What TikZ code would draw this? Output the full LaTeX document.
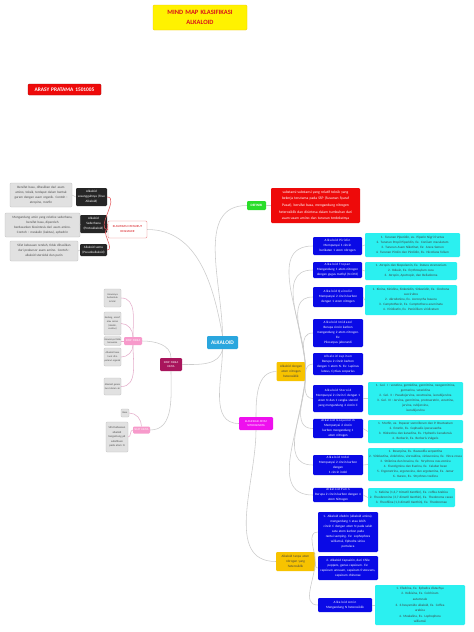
\documentclass[tikz,border=0pt]{standalone}
\usepackage{fontspec}
\setmainfont{Carlito}
\newfontfamily\spc[LetterSpace=12]{Carlito}
\definecolor{nblue}{HTML}{0A0AE6}
\definecolor{ncyan}{HTML}{2BF0F0}
\definecolor{ngold}{HTML}{F7C300}
\definecolor{nmag}{HTML}{EE10EE}
\definecolor{nred}{HTML}{EE0A0A}
\definecolor{ngreen}{HTML}{2ADD2A}
\definecolor{nsky}{HTML}{2AA6DE}
\definecolor{nmaroon}{HTML}{A8155C}
\definecolor{npink}{HTML}{F79ACB}
\definecolor{ngray}{HTML}{E1E1E1}
\definecolor{ndark}{HTML}{262626}
\definecolor{lgray}{HTML}{CBCBCB}
\definecolor{tred}{HTML}{D8141A}
\tikzset{
  bx/.style={rounded corners=1.2pt, align=center, inner xsep=0pt, inner ysep=0.6pt,
    font=\fontsize{3.3}{5}\selectfont},
  sz/.style 2 args={minimum width=#1pt, text width=#1pt, minimum height=#2pt},
  bluebox/.style={bx, fill=nblue, text=white},
  cyanbox/.style={bx, fill=ncyan, text=black!75},
  goldbox/.style={bx, fill=ngold, text=black!75},
  graybox/.style={bx, fill=ngray, draw=black!25, line width=0.3pt, text=black!70},
  smallgray/.style={graybox, font=\fontsize{2.5}{3.7}\selectfont},
  darkbox/.style={bx, fill=ndark, text=white},
  link/.style={draw=lgray, line width=0.55pt},
  rlink/.style={draw=tred!70, line width=0.55pt},
  plink/.style={draw=npink!60!lgray, line width=0.55pt},
}
\begin{document}
\begin{tikzpicture}[x=1pt,y=-1pt]
\useasboundingbox (0,0) rectangle (474,632);
\fill[white] (0,0) rectangle (474,632);

% title and author
\node[bx, sz={94}{25}, fill=yellow, draw=ngold, line width=0.4pt, text=tred,
  font=\fontsize{6.5}{9.5}\selectfont\bfseries] (title) at (200,17.5) {MIND MAP KLASIFIKASI\\ALKALOID};
\node[bx, sz={73}{11}, fill=nred, draw=nred!70!black, line width=0.3pt, text=white,
  font=\fontsize{5.4}{6}\selectfont\bfseries] (author) at (64.5,89.5) {ARASY PRATAMA 1501005};

% centre
\node[bx, sz={31}{13}, fill=nsky, text=white, font=\fontsize{5.5}{6}\selectfont\bfseries] (alk) at (222.5,342.5) {ALKALOID};

% definisi
\node[bx, sz={19}{9}, fill=ngreen, text=white, font=\fontsize{3.3}{4}\selectfont\bfseries] (def) at (256.5,205.5) {DEFINISI};
\node[bx, sz={89}{35}, fill=nred, text=white, font=\fontsize{3.7}{6.6}\selectfont] (defr) at (315.5,205.5)
 {substansi-substansi yang relatif toksik yang\\bekerja terutama pada SSP (Susunan Syaraf\\Pusat), bersifat basa, mengandung nitrogen\\heterosiklik dan disintesa dalam tumbuhan dari\\asam-asam amino dan turunan terdekatnya};

% Hegnauer
\node[bx, sz={39}{17}, fill=white, draw=tred!60, line width=0.4pt, text=tred, font=\fontsize{3.1}{5}\selectfont] (heg) at (127.5,229.5) {KLASIFIKASI MENURUT\\HEGNAUER};
\node[darkbox, sz={31}{18}] (tru) at (91.5,197) {Alkaloid\\sesungguhnya (True\\Alkaloid)};
\node[darkbox, sz={27}{18}] (pro) at (93.5,224) {Alkaloid\\Sederhana\\(Protoalkaloid)};
\node[darkbox, sz={27}{12}] (pse) at (93.5,250) {Alkaloid semu\\(Pseudoalkaloid)};
\node[graybox, sz={62}{24}] (ga) at (41,195) {Bersifat basa, dihasilkan dari asam\\amino, toksik, terdapat dalam bentuk\\garam dengan asam organik. Contoh :\\atropine, morfin};
\node[graybox, sz={75}{24}] (gb) at (42.5,225) {Mengandung amin yang relative sederhana,\\bersifat basa, diperoleh\\berdasarkan biosintesis dari asam amino.\\Contoh : meskalin (kaktus), ephedrin};
\node[graybox, sz={68}{20}] (gc) at (44,251) {Sifat kebasaan rendah, tidak dihasilkan\\dari prekursor asam amino. Contoh :\\alkaloid steroidal dan purin};

% sifat fisika kimia
\node[bx, sz={22}{13}, fill=nmaroon, text=white, font=\fontsize{2.9}{4.2}\selectfont] (sfk) at (171,364.5) {SIFAT FISIKA\\KIMIA};
\node[bx, sz={18}{8}, fill=npink, text=white, font=\fontsize{2.9}{4}\selectfont] (fis) at (133,341) {SIFAT FISIKA};
\node[smallgray, sz={17}{18}] (f1) at (112.5,298) {Umumnya\\berbentuk\\kristal};
\node[smallgray, sz={17}{23}] (f2) at (112.5,323.5) {Kadang, amorf\\atau cairan\\(nikotin,\\coniine)};
\node[smallgray, sz={17}{9}] (f3) at (112.5,341) {Umumnya tidak\\berwarna};
\node[smallgray, sz={17}{18}] (f4) at (112.5,357) {Alkaloid basa\\larut dlm\\pelarut organik};
\node[smallgray, sz={17}{17}] (f5) at (112.5,386.5) {Alkaloid garam\\larut dalam air};
\node[bx, sz={17}{7}, fill=npink, text=white, font=\fontsize{2.9}{4}\selectfont] (kim) at (141.5,430) {SIFAT KIMIA};
\node[smallgray, sz={8}{8}] (basa) at (125,413) {Basa};
\node[smallgray, sz={22}{30}, font=\fontsize{2.8}{4.6}\selectfont] (kg) at (117,437) {Sifat kebasaan\\alkaloid\\bergantung pd\\substituen\\pada atom N};

% klasifikasi atom nitrogen
\node[bx, sz={34}{13}, fill=nmag, text=white, font=\fontsize{2.9}{4.4}\selectfont] (mag) at (256,423.5) {KLASIFIKASI ATOM\\NITROGENNYA};
\node[goldbox, sz={29}{19}] (g1) at (291,371.5) {Alkaloid dengan\\atom nitrogen\\heterosiklik};
\node[goldbox, sz={39}{19}] (g2) at (295.5,561.5) {Alkaloid tanpa atom\\nitrogen yang\\heterosiklik};

% heterocyclic blue boxes
\node[bluebox, sz={49}{18}] (b1) at (337.5,246) {{\spc Alkaloid Piridin}\\Mempunyai 1 cincin\\berikatan 1 atom nitrogen};
\node[bluebox, sz={49}{16}] (b2) at (337.5,270) {{\spc Alkaloid Tropan}\\Mengandung 1 atom nitrogen\\dengan gugus methyl (N-CH3)};
\node[bluebox, sz={50}{20}] (b3) at (338,297) {{\spc Alkaloid Quinolin}\\Mempunyai 2 cincin karbon\\dengan 1 atom nitrogen};
\node[bluebox, sz={50}{28}] (b4) at (338,333) {{\spc Alkaloid Imidazol}\\Berupa cincin karbon\\mengandung 2 atom nitrogen.\\Ex:\\Pilocarpus jaborandi};
\node[bluebox, sz={50}{22}] (b5) at (338,364) {{\spc Alkaloid Lupinan}\\Berupa 2 cincin karbon\\dengan 1 atom N. Ex: Lupinus\\luteus, Cytisus scoparius};
\node[bluebox, sz={50}{27}] (b6) at (338,398.5) {{\spc Alkaloid Steroid}\\Mempunyai 2 cincin C dengan 1\\atom N dan 1 rangka steroid\\yang mengandung 4 cincin C};
\node[bluebox, sz={50}{17}] (b7) at (338,428.5) {{\spc Alkaloid Isoquinolin}\\Mempunyai 2 cincin\\karbon mengandung 1\\atom nitrogen};
\node[bluebox, sz={50}{20}] (b8) at (338,465) {{\spc Alkaloid Indol}\\Mempunyai 2 cincin karbon\\dengan\\1 cincin indol};
\node[bluebox, sz={50}{14}] (b9) at (338,495) {{\spc Alkaloid Purin}\\Berupa 2 cincin karbon dengan 4\\atom Nitrogen};

\node[cyanbox, sz={95}{24}] (c1) at (412.5,245) {1. Turunan Piperidin, ex. Piperin Nigri fructus\\2. Turunan Propil Piperidin, Ex. Coniium maculatum\\3. Turunan Asam Nikotinat, Ex: Areca Semen\\4. Turunan Pirolin dan Pirolidin, Ex. Nicotiana folium};
\node[cyanbox, sz={92}{18}] (c2) at (411,271) {1. Atropin dan Skopolamin, Ex. Datura stramonium\\2. Kokain, Ex. Erythroxylum coca\\3. Atropin, Apotropin, dan Belladonna};
\node[cyanbox, sz={92}{30}] (c3) at (411,300) {1. Kinina, Kinidina, Sinkonidin, Sinkonidin, Ex. Cinchona\\succirubra\\2. Akrodonina, Ex. Acronycha baueru\\3. Camptothecin, Ex. Camptotheca acuminata\\4. Viridicatin, Ex. Penicillium viridicatum};
\node[cyanbox, sz={95}{33}] (c6) at (415.5,398.5) {1. Gol. I : veratina, germidina, germitrina, neogermitrina,\\germerina, veteridina\\2. Gol. II : Pseudojervina, veratrosina, isorubijervina\\3. Gol. III : Jervina, germitrina, protoveratrin, veratrina,\\jervina, rubijervina,\\isorubijervina};
\node[cyanbox, sz={95}{23}] (c7) at (415.5,431.5) {1. Morfin, ex. Papaver somniferum dan P. Bracteatum\\2. Emetin, Ex. Cephaelis ipecacuanha\\3. Hidrastina dan kanadina, Ex. Hydrastis Canadensis\\4. Berberin, Ex. Berberis Vulgaris};
\node[cyanbox, sz={95}{33}] (c8) at (415.5,464.5) {1. Reserpina, Ex. Rauwolfia serpentina\\2. Vinblastina, vinkristina, vinrosidina, vinleurosina, Ex. Vinca rosea\\3. Striknina dan brusina, Ex. Strychnos nux-vomica\\4. Fisostigmina dan Eserina, Ex. Calabar bean\\5. Ergometrina, ergonovina, dan ergotamina, Ex. Jamur\\6. Kurare, Ex. Strychnos toxifera};
\node[cyanbox, sz={87}{19}] (c9) at (411.5,497.5) {1. Kafeina (1,3,7 trimetil Xanthin), Ex. coffea Arabica\\2. Theobromine (3,7 dimetil Xanthin), Ex. Theobroma cacao\\3. Theofilina (1,3 dimetil Xanthin), Ex. Theobromae};

% non heterocyclic
\node[bluebox, sz={60}{40}] (b10) at (348,532) {1. Alkaloid efedrin (alkaloid amina),\\mengandung 1 atau lebih\\cincin C dengan atom N pada salah\\satu atom karbon pada\\rantai samping. Ex: Lophophora\\williamsii, Ephedra sinica\\portulaca};
\node[bluebox, sz={60}{24}] (b11) at (348,568) {2. Alkaloid Capsaicin, dari Chile\\peppers, genus capsicum. Ex:\\capsicum annuum, capsicum frutescens,\\capsicum chinense};
\node[bluebox, sz={54}{14}] (b12) at (345,605) {{\spc Alkaloid Amin}\\Mengandung N heterosiklik};
\node[cyanbox, sz={90}{40}, font=\fontsize{3.3}{5.6}\selectfont] (c12) at (420,605) {1. Efedrina, Ex. Ephedra distachya\\2. Kolkisina, Ex. Colchicum\\autumnale\\3. 3-hexyamido alkaloid, Ex. Coffea\\arabica\\4. Meskalina, Ex. Lophophora\\williamsii};

% ---- connectors ----
\draw[link] (alk.north) to[out=90,in=180] (def.west);
\draw[link] (def.east) -- (defr.west);
\draw[link] (alk.north) to[out=100,in=0] (heg.east);
\draw[link] (alk.south) to[out=-100,in=0] (sfk.east);
\draw[link] (alk.south) to[out=-90,in=180] (mag.west);

\draw[rlink] (heg.west) to[out=180,in=0] (tru.east);
\draw[rlink] (heg.west) to[out=180,in=0] (pro.east);
\draw[rlink] (heg.west) to[out=180,in=0] (pse.east);
\draw[link] (tru.west) -- (ga.east);
\draw[link] (pro.west) -- (gb.east);
\draw[link] (pse.west) -- (gc.east);

\draw[link] (sfk.north) to[out=90,in=0] (fis.east);
\draw[link] (sfk.south) to[out=-90,in=0] (kim.east);
\draw[plink] (fis.north) to[out=90,in=0] (f1.east);
\draw[plink] (fis.north) to[out=90,in=0] (f2.east);
\draw[plink] (fis.west) -- (f3.east);
\draw[plink] (fis.south) to[out=-90,in=0] (f4.east);
\draw[plink] (fis.south) to[out=-90,in=0] (f5.east);
\draw[plink] (kim.north) to[out=90,in=0] (basa.east);
\draw[plink] (kim.west) to[out=180,in=0] (kg.east);

\draw[link] (mag.north) to[out=90,in=180] (g1.west);
\draw[link] (mag.south) to[out=-90,in=180] (g2.west);

\coordinate (g1o) at (g1.east);
\foreach \b in {b1,b2,b3,b4,b5} \draw[link] (g1o) to[out=90,in=180] (\b.west);
\foreach \b in {b6,b7,b8,b9} \draw[link] (g1o) to[out=-90,in=180] (\b.west);
\draw[link] (b1.east) -- (c1.west);
\draw[link] (b2.east) -- (c2.west);
\draw[link] (b3.east) -- (c3.west);
\draw[link] (b6.east) -- (c6.west);
\draw[link] (b7.east) -- (c7.west);
\draw[link] (b8.east) -- (c8.west);
\draw[link] (b9.east) -- (c9.west);

\coordinate (g2o) at (g2.east);
\draw[link] (g2o) to[out=90,in=180] (b10.west);
\draw[link] (g2o) to[out=-90,in=180] (b11.west);
\draw[link] (g2o) to[out=-90,in=180] (b12.west);
\draw[link] (b12.east) -- (c12.west);
\end{tikzpicture}
\end{document}
